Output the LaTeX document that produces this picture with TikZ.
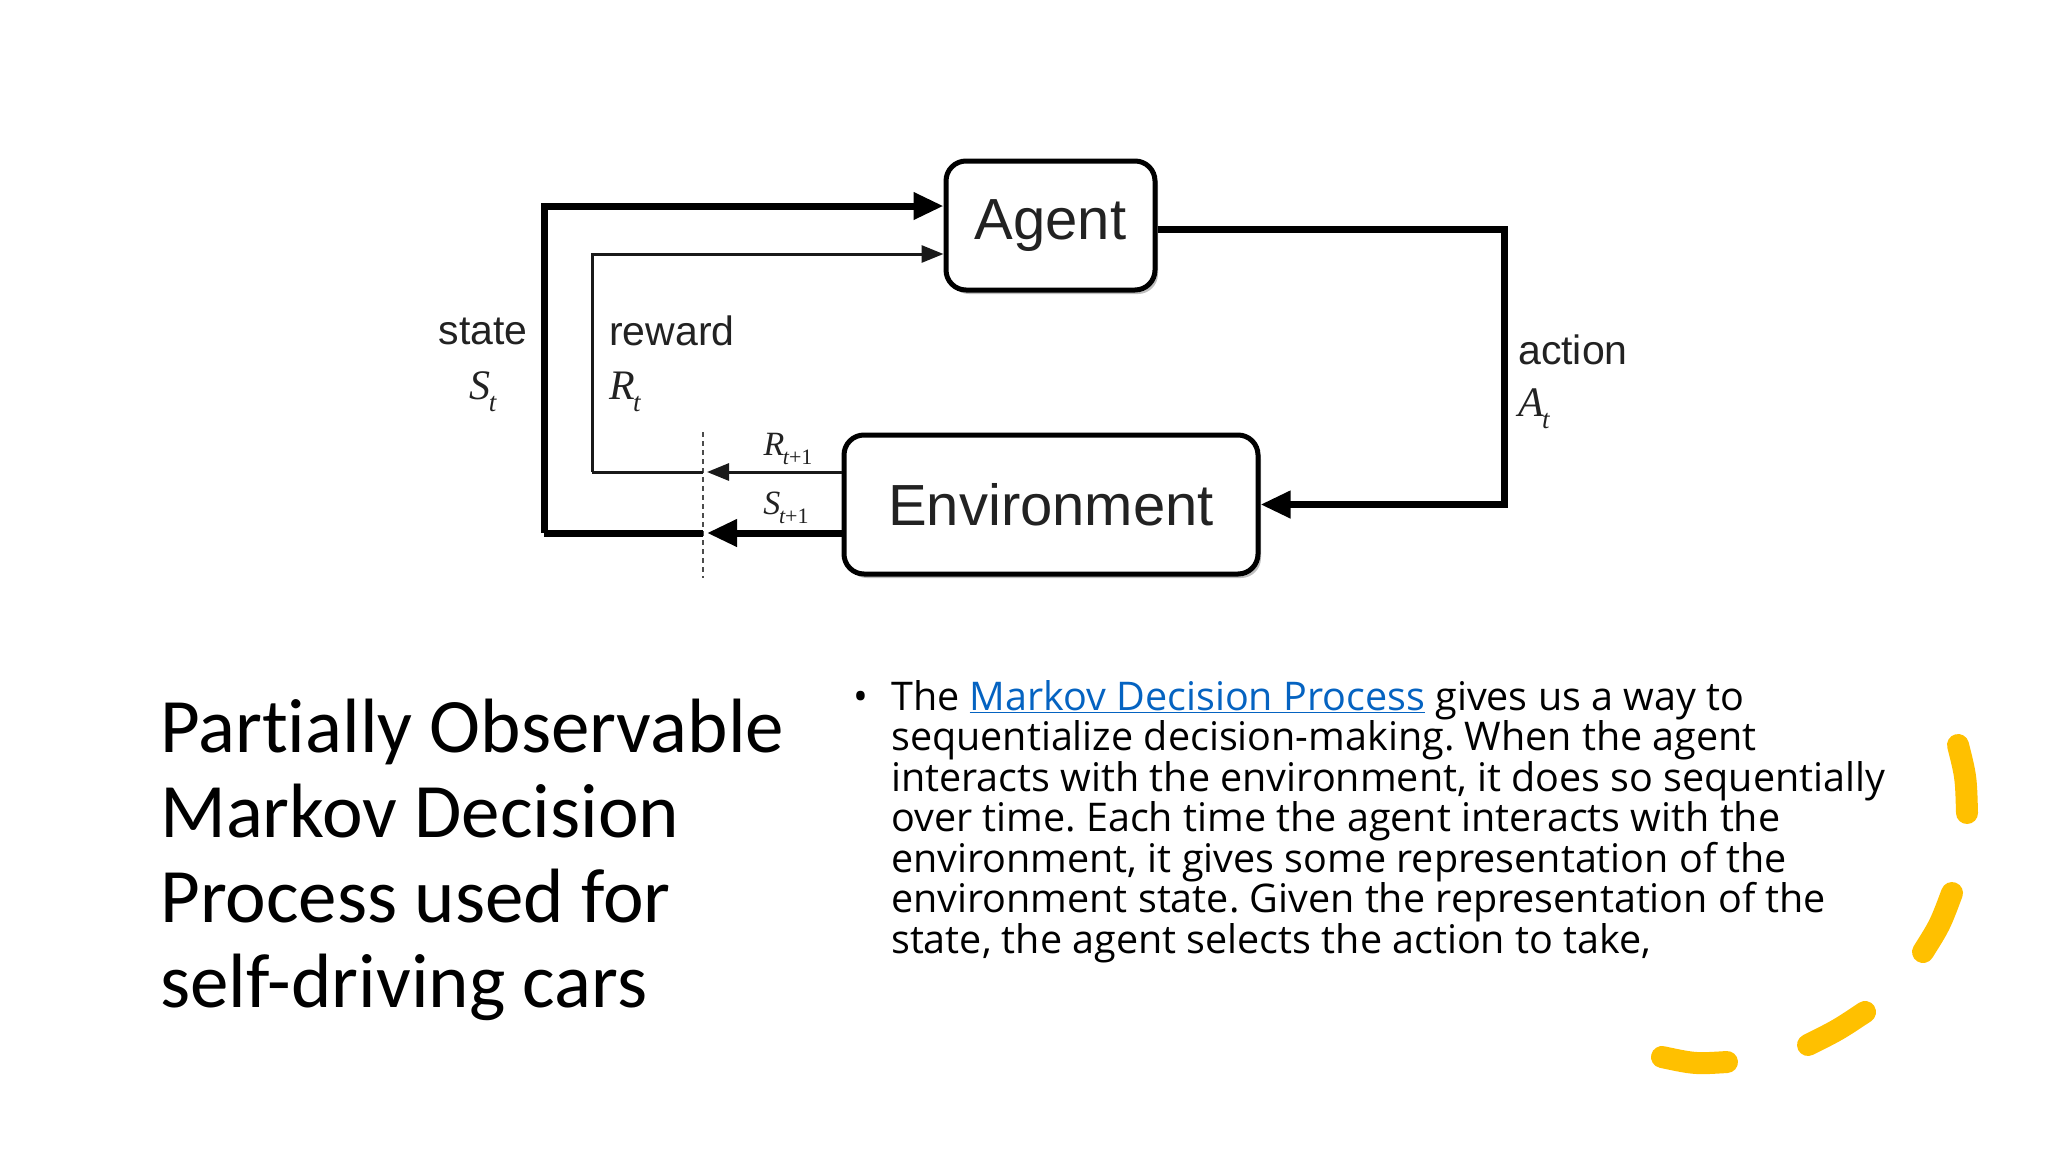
\documentclass[tikz,border=0pt]{standalone}
\usepackage{fontspec}
\setmainfont{Carlito}[Ligatures=NoCommon]
\newfontfamily\bodyfont{Open Sans}[Ligatures=NoCommon]
\newfontfamily\arialf{Liberation Sans}
\newfontfamily\tmsfont{Liberation Serif}
\usetikzlibrary{arrows.meta,shadows}
\definecolor{linkblue}{HTML}{0563C1}
\definecolor{gold}{HTML}{FFC000}
\definecolor{ink}{HTML}{222222}
\frenchspacing
\newcommand\mvar[4]{{\tmsfont\itshape\fontsize{#3}{#3}\selectfont #1\kern-0.04em\raisebox{-0.28em}{\fontsize{#4}{#4}\selectfont #2}}}
\begin{document}
\begin{tikzpicture}[x=1pt,y=-1pt,
  box/.style={draw=black, line width=5pt, rounded corners=20pt, fill=white,
    drop shadow={shadow xshift=3pt, shadow yshift=-4pt, opacity=0.25, fill=black},
    font=\arialf\fontsize{58}{58}\selectfont, text=ink},
  heavy/.style={draw=black, line width=7pt, -{Triangle[length=30pt,width=26pt]}},
  heavyplain/.style={draw=black, line width=7pt},
  light/.style={draw=black!90, line width=3pt, -{Triangle[length=22pt,width=17pt]}},
  lbl/.style={font=\arialf\fontsize{41}{41}\selectfont, text=ink, inner sep=0pt},
  mlbl/.style={text=ink, inner sep=0pt},
  cut/.style={draw=black!70, line width=1.6pt, dash pattern=on 5pt off 4pt},
  title/.style={font=\fontsize{77}{77}\selectfont, text=black, inner sep=0pt, anchor=base west},
  body/.style={font=\bodyfont\fontsize{39.5}{39.5}\selectfont, text=black, inner sep=0pt, anchor=base west},
  deco/.style={draw=gold, line width=22pt, line cap=round}
]
\useasboundingbox (0,0) rectangle (2048,1152);
\fill[white] (0,0) rectangle (2048,1152);

% boxes
\node[box, minimum width=209pt, minimum height=129pt] (agent) at (1050.5,225.5) {Agent};
\node[box, minimum width=414pt, minimum height=139pt] (env) at (1051,504.5) {Environment};

% cut line
\coordinate (cutTop) at (703,432);
\coordinate (cutBot) at (703,578);
\draw[cut] (cutTop) -- (cutBot);

\coordinate (cutS) at (703,533);
\coordinate (cutR) at (703,472);
\coordinate (tipS) at (707,533);
\coordinate (tipR) at (707,472);
\coordinate (sCorner) at (544,533);
\coordinate (rCorner) at (592,472);
\coordinate (aCorner) at (1504,229);

% environment outputs
\draw[heavy] (env.west |- tipS) -- (tipS);
\draw[light] (env.west |- tipR) -- (tipR);

% state and reward back to agent
\draw[heavyplain] (cutS) -- (sCorner);
\draw[heavy] (sCorner) |- ([yshift=19.5pt]agent.west);
\draw[line width=3pt, draw=black!90] (cutR) -- (rCorner);
\draw[light] (rCorner) |- ([yshift=-28.5pt]agent.west);

% action
\draw[heavy] (agent.east |- aCorner) -- (aCorner) |- (env.east);

% labels
\node[lbl] (lstate) at (483,331) {state};
\node[mlbl] (lSt) at (483,392) {\mvar{S}{t}{42}{27}};
\node[lbl, anchor=west] (lreward) at (609,331) {reward};
\node[mlbl, anchor=west] (lRt) at (609,392) {\mvar{R}{t}{42}{27}};
\node[lbl, anchor=west] (laction) at (1518,350) {action};
\node[mlbl, anchor=west] (lAt) at (1518,409) {\mvar{A}{t}{42}{27}};
\node[mlbl] (lR1) at (788,449) {\mvar{R}{t\upshape+1}{34}{22}};
\node[mlbl] (lS1) at (786,508) {\mvar{S}{t\upshape+1}{34}{22}};

% title
\node[title] (t1) at (160,752) {Partially Observable};
\node[title] (t2) at (160,837) {Markov Decision};
\node[title] (t3) at (160,922) {Process used for};
\node[title] (t4) at (160,1007) {self-driving cars};

% body
\node[body] (bullet) at (853,710) {•};
\node[body] (b1) at (891,710) {The \textcolor{linkblue}{\underline{Markov Decision Process}} gives us a way to};
\node[body] (b2) at (891,750.5) {sequentialize decision-making. When the agent};
\node[body] (b3) at (891,791) {interacts with the environment, it does so sequentially};
\node[body] (b4) at (891,831.5) {over time. Each time the agent interacts with the};
\node[body] (b5) at (891,872) {environment, it gives some representation of the};
\node[body] (b6) at (891,912.5) {environment state. Given the representation of the};
\node[body] (b7) at (891,953) {state, the agent selects the action to take,};

% decorative dashed arc
\draw[deco] (1958,745) .. controls (1966,777) .. (1967,813);
\draw[deco] (1952,893) .. controls (1940,925) .. (1923,952);
\draw[deco] (1865,1012) .. controls (1838,1030) .. (1808,1045);
\draw[deco] (1727,1062) .. controls (1695,1064) .. (1662,1057);
\end{tikzpicture}
\end{document}
